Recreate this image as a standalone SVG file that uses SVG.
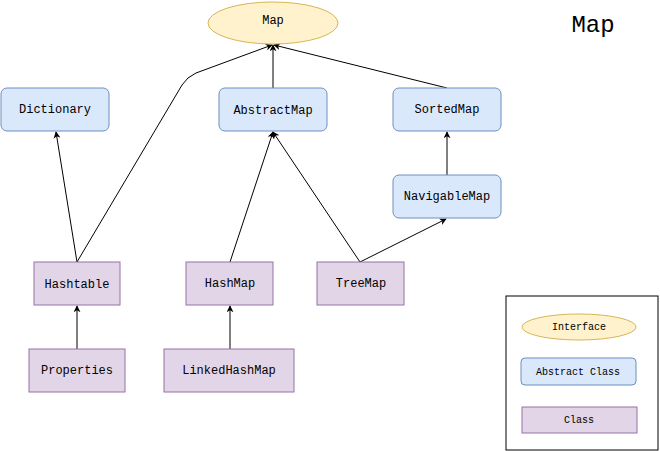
<svg xmlns="http://www.w3.org/2000/svg" width="660" height="451" viewBox="0 0 660 451">
<defs>
<marker id="a" viewBox="0 0 10 10" refX="9" refY="5" markerWidth="7" markerHeight="7" orient="auto"><path d="M0,0 L10,5 L0,10 L3,5 Z" fill="#000"/></marker>
<style>
text{font-family:"Liberation Mono","DejaVu Sans Mono",monospace;font-weight:normal;font-size:12px;text-anchor:middle;dominant-baseline:central;fill:#000}
.i{fill:#fff2cc;stroke:#d6b656}
.ab{fill:#dae8fc;stroke:#6c8ebf}
.c{fill:#e1d5e7;stroke:#9673a6}
.e{fill:none;stroke:#000;stroke-width:1;marker-end:url(#a)}
</style>
</defs>
<rect width="660" height="451" fill="#fff"/>
<g id="connectors">
<path class="e" d="M77,262 L56,132"/>
<path class="e" d="M77,262 L182,85 Q187,77 196,73 L272,45"/>
<path class="e" d="M273,88 L273,45"/>
<path class="e" d="M447,88 L274,45"/>
<path class="e" d="M447,175 L447,132"/>
<path class="e" d="M230,262 L273,132"/>
<path class="e" d="M360,262 L273,132"/>
<path class="e" d="M360,262 L446,219"/>
<path class="e" d="M77,349 L77,306"/>
<path class="e" d="M230,349 L230,306"/>
</g>
<g id="map"><ellipse class="i" cx="273" cy="23" rx="65" ry="21"/><text x="273" y="21">Map</text></g>
<g id="dictionary"><rect class="ab" x="1" y="88" width="108" height="43" rx="6"/><text x="55" y="110">Dictionary</text></g>
<g id="abstractmap"><rect class="ab" x="219" y="88" width="108" height="43" rx="6"/><text x="273" y="111">AbstractMap</text></g>
<g id="sortedmap"><rect class="ab" x="393" y="88" width="108" height="43" rx="6"/><text x="447" y="110">SortedMap</text></g>
<g id="navigablemap"><rect class="ab" x="393" y="175" width="108" height="43" rx="6"/><text x="447" y="197">NavigableMap</text></g>
<g id="hashtable"><rect class="c" x="34" y="262" width="86" height="43"/><text x="77" y="285">Hashtable</text></g>
<g id="hashmap"><rect class="c" x="186" y="262" width="87" height="43"/><text x="230" y="284">HashMap</text></g>
<g id="treemap"><rect class="c" x="317" y="262" width="87" height="43"/><text x="361" y="284">TreeMap</text></g>
<g id="properties"><rect class="c" x="29" y="349" width="96" height="43"/><text x="77" y="371">Properties</text></g>
<g id="linkedhashmap"><rect class="c" x="164" y="349" width="130" height="43"/><text x="229" y="371">LinkedHashMap</text></g>
<g id="title"><text x="593" y="25" style="font-size:24px">Map</text></g>
<g id="legend">
<rect x="506" y="296" width="152" height="154" fill="#fff" stroke="#000"/>
<ellipse class="i" cx="579" cy="327" rx="57" ry="13"/><text x="579" y="327" style="font-size:10px">Interface</text>
<rect class="ab" x="521" y="358" width="115" height="27" rx="4"/><text x="578" y="372" style="font-size:10px">Abstract Class</text>
<rect class="c" x="522" y="407" width="115" height="26"/><text x="579" y="420" style="font-size:10px">Class</text>
</g>
</svg>
